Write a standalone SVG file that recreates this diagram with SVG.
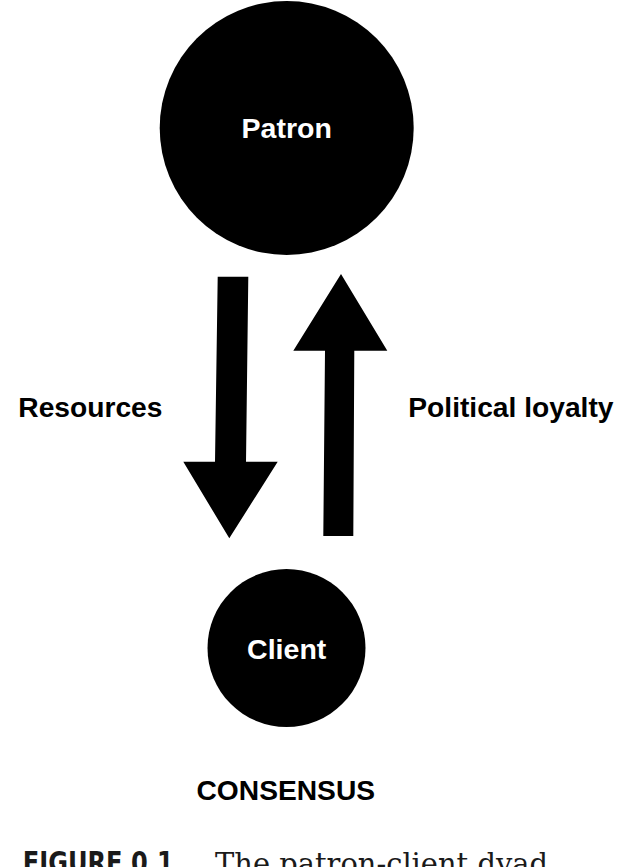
<svg xmlns="http://www.w3.org/2000/svg" width="621" height="867" viewBox="0 0 621 867">
  <style>
    .node { fill: #000; }
    .inner { fill: #fff; font-family: "Liberation Sans", Arial, sans-serif; font-weight: bold; font-size: 28.5px; text-anchor: middle; }
    .label { fill: #000; font-family: "Liberation Sans", Arial, sans-serif; font-weight: bold; font-size: 28.2px; }
    .arrow { fill: #000; }
    .capnum { fill: #1a1a1a; font-family: "DejaVu Sans Condensed", "DejaVu Sans", sans-serif; font-weight: bold; font-size: 30px; }
    .captext { fill: #1a1a1a; font-family: "DejaVu Serif", "Liberation Serif", serif; font-size: 29px; }
  </style>
  <rect width="621" height="867" fill="#fff"/>
  <g id="connectors">
    <polygon id="arrow-resources" class="arrow" points="217.7,276.7 248.3,276.7 246,461.7 277.7,461.7 229.3,538.3 183.3,461.7 215,461.7"/>
    <polygon id="arrow-loyalty" class="arrow" points="341,274 387.3,350.7 354.3,350.7 353.3,536 323.3,536 325,350.7 293.3,350.7"/>
  </g>
  <g id="patron">
    <circle class="node" cx="286.7" cy="128" r="127"/>
    <text class="inner" x="286.7" y="138.3">Patron</text>
  </g>
  <g id="client">
    <circle class="node" cx="286.5" cy="648" r="79"/>
    <text class="inner" x="286.7" y="659.3">Client</text>
  </g>
  <g id="labels">
    <text class="label" x="18.3" y="416.7">Resources</text>
    <text class="label" x="408.3" y="416.7">Political loyalty</text>
    <text class="label" x="285.8" y="800" text-anchor="middle" font-size="28.6">CONSENSUS</text>
  </g>
  <g id="caption">
    <text class="capnum" x="22.7" y="873" textLength="151" lengthAdjust="spacingAndGlyphs">FIGURE 0.1</text>
    <text class="captext" x="215" y="874" textLength="333" lengthAdjust="spacingAndGlyphs">The patron-client dyad</text>
  </g>
</svg>
